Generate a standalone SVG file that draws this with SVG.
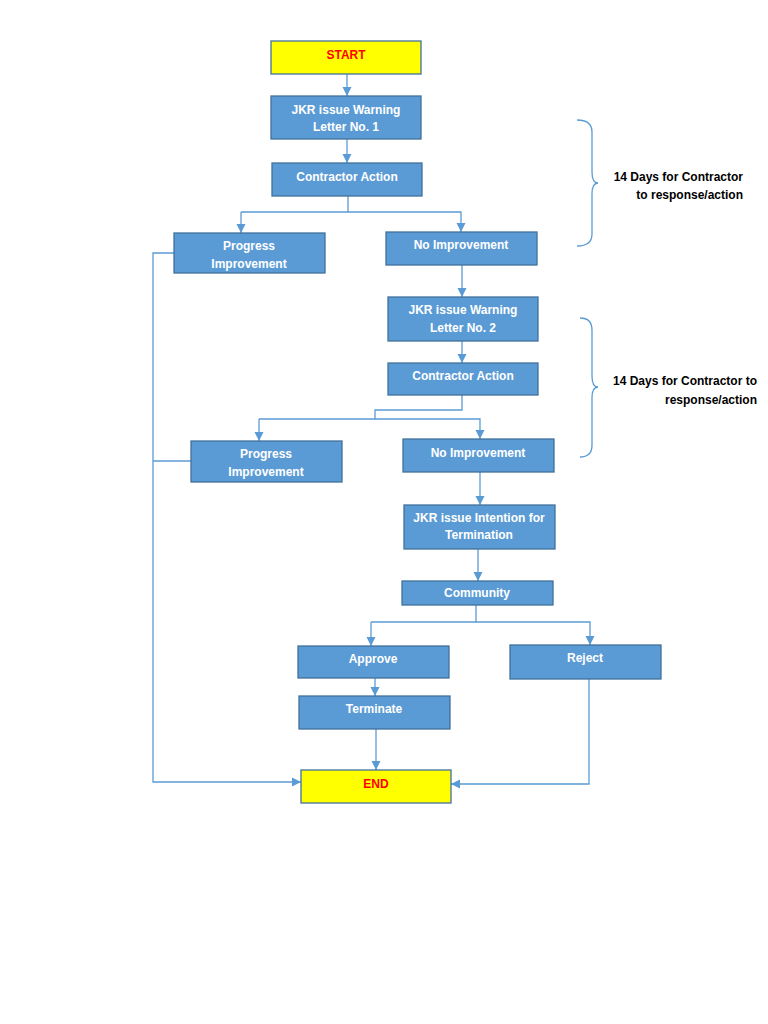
<svg xmlns="http://www.w3.org/2000/svg" width="768" height="1024" viewBox="0 0 768 1024">
<style>
.b{fill:#5b9bd5;stroke:#41719c;stroke-width:1.3}
.y{fill:#ffff00;stroke:#41719c;stroke-width:1.3}
.t{font-family:"Liberation Sans",Arial,sans-serif;font-size:12px;font-weight:bold;fill:#fff;text-anchor:middle}
.r{fill:#ff0000}
.k{font-family:"Liberation Sans",Arial,sans-serif;font-size:12px;font-weight:bold;fill:#000;text-anchor:end}
.c{fill:none;stroke:#5b9bd5;stroke-width:1.3}
</style>
<defs><marker id="a" viewBox="0 0 10 10" refX="10" refY="5" markerWidth="7" markerHeight="7" orient="auto"><path d="M0,0L10,5L0,10z" fill="#5b9bd5"/></marker></defs>
<rect width="768" height="1024" fill="#fff"/>
<g id="connectors">
<path class="c" marker-end="url(#a)" d="M347,74V96"/>
<path class="c" marker-end="url(#a)" d="M347,139V163"/>
<path class="c" d="M348,196V212H241"/>
<path class="c" marker-end="url(#a)" d="M241,212V233"/>
<path class="c" marker-end="url(#a)" d="M348,212H461V232"/>
<path class="c" marker-end="url(#a)" d="M462,265V297"/>
<path class="c" marker-end="url(#a)" d="M462,341V363"/>
<path class="c" d="M462,395V410H375V419H259"/>
<path class="c" marker-end="url(#a)" d="M259,419V441"/>
<path class="c" marker-end="url(#a)" d="M375,419H480V439"/>
<path class="c" marker-end="url(#a)" d="M480,472V505"/>
<path class="c" marker-end="url(#a)" d="M478,549V581"/>
<path class="c" d="M476,605V622H371"/>
<path class="c" marker-end="url(#a)" d="M371,622V646"/>
<path class="c" marker-end="url(#a)" d="M476,622H590V645"/>
<path class="c" marker-end="url(#a)" d="M375,678V696"/>
<path class="c" marker-end="url(#a)" d="M376,729V770"/>
<path class="c" marker-end="url(#a)" d="M589,679V784H451"/>
<path class="c" marker-end="url(#a)" d="M174,253H153V782H301"/>
<path class="c" d="M191,461H153"/>
</g>
<g id="brace1"><path d="M577,120Q592,120 592,132V172Q592,183 598,183Q592,183 592,194V234Q592,246 577,246" fill="none" stroke="#5b9bd5" stroke-width="1.3"/>
<text class="k" x="743" y="181">14 Days for Contractor</text><text class="k" x="743" y="199">to response/action</text></g>
<g id="brace2"><path d="M580,318Q592,318 592,330V376Q592,387 598,387Q592,387 592,398V445Q592,457 580,457" fill="none" stroke="#5b9bd5" stroke-width="1.3"/>
<text class="k" x="757" y="385">14 Days for Contractor to</text><text class="k" x="757" y="404">response/action</text></g>
<g id="start"><rect class="y" x="271" y="41" width="150" height="33"/><text class="t r" x="346" y="59">START</text></g>
<g id="jkr1"><rect class="b" x="271" y="96" width="150" height="43"/><text class="t" x="346" y="114">JKR issue Warning</text><text class="t" x="346" y="131">Letter No. 1</text></g>
<g id="ca1"><rect class="b" x="272" y="163" width="150" height="33"/><text class="t" x="347" y="181">Contractor Action</text></g>
<g id="pi1"><rect class="b" x="174" y="233" width="151" height="40"/><text class="t" x="249" y="250">Progress</text><text class="t" x="249" y="268">Improvement</text></g>
<g id="ni1"><rect class="b" x="386" y="232" width="151" height="33"/><text class="t" x="461" y="249">No Improvement</text></g>
<g id="jkr2"><rect class="b" x="388" y="297" width="150" height="44"/><text class="t" x="463" y="314">JKR issue Warning</text><text class="t" x="463" y="332">Letter No. 2</text></g>
<g id="ca2"><rect class="b" x="388" y="363" width="150" height="32"/><text class="t" x="463" y="380">Contractor Action</text></g>
<g id="pi2"><rect class="b" x="191" y="441" width="151" height="41"/><text class="t" x="266" y="458">Progress</text><text class="t" x="266" y="476">Improvement</text></g>
<g id="ni2"><rect class="b" x="403" y="439" width="151" height="33"/><text class="t" x="478" y="457">No Improvement</text></g>
<g id="intent"><rect class="b" x="404" y="505" width="151" height="44"/><text class="t" x="479" y="522">JKR issue Intention for</text><text class="t" x="479" y="539">Termination</text></g>
<g id="community"><rect class="b" x="402" y="581" width="151" height="24"/><text class="t" x="477" y="597">Community</text></g>
<g id="approve"><rect class="b" x="298" y="646" width="151" height="32"/><text class="t" x="373" y="663">Approve</text></g>
<g id="reject"><rect class="b" x="510" y="645" width="151" height="34"/><text class="t" x="585" y="662">Reject</text></g>
<g id="terminate"><rect class="b" x="299" y="696" width="151" height="33"/><text class="t" x="374" y="713">Terminate</text></g>
<g id="end"><rect class="y" x="301" y="770" width="150" height="33"/><text class="t r" x="376" y="788">END</text></g>
</svg>
